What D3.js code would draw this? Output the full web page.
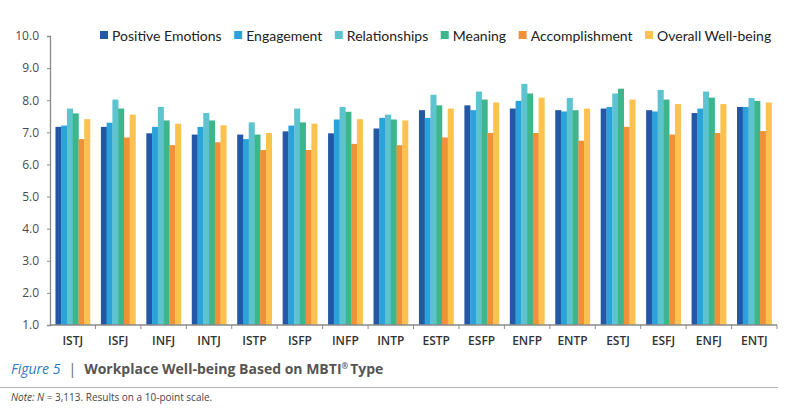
<!doctype html>
<html>
<head>
<meta charset="utf-8">
<title>Workplace Well-being Based on MBTI Type</title>
<style>
  html, body { margin: 0; padding: 0; background: #fff; }
  svg { display: block; }
</style>
<script src="https://cdnjs.cloudflare.com/ajax/libs/d3/7.8.5/d3.min.js"></script>
</head>
<body>
<script>
// data
var types = ["ISTJ","ISFJ","INFJ","INTJ","ISTP","ISFP","INFP","INTP",
             "ESTP","ESFP","ENFP","ENTP","ESTJ","ESFJ","ENFJ","ENTJ"];
var seriesNames = ["Positive Emotions","Engagement","Relationships","Meaning","Accomplishment","Overall Well-being"];
var seriesColors = ["#2457a5","#2aa3db","#5cc3cf","#3db68b","#f0913a","#fcc24f"];

var positiveEmotions = [7.17,7.17,6.97,6.93,6.93,7.03,6.97,7.12,7.69,7.84,7.74,7.69,7.74,7.69,7.60,7.79];
var engagement       = [7.21,7.30,7.17,7.17,6.79,7.21,7.40,7.45,7.45,7.69,7.98,7.65,7.79,7.65,7.74,7.79];
var relationships    = [7.74,8.02,7.79,7.60,7.31,7.74,7.79,7.55,8.17,8.27,8.51,8.07,8.21,8.32,8.27,8.07];
var meaning          = [7.59,7.74,7.37,7.37,6.93,7.31,7.64,7.40,7.84,8.02,8.21,7.69,8.36,8.02,8.08,7.98];
var accomplishment   = [6.79,6.84,6.60,6.69,6.45,6.45,6.64,6.60,6.84,6.98,6.98,6.74,7.17,6.93,6.98,7.04];
var overallWellbeing = [7.41,7.55,7.27,7.22,6.98,7.27,7.41,7.37,7.74,7.93,8.08,7.74,8.02,7.88,7.88,7.93];

var yTicks = [1,2,3,4,5,6,7,8,9,10];

var allSeries = [positiveEmotions, engagement, relationships, meaning, accomplishment, overallWellbeing];

var width = 799, height = 409;
var plotL = 50, plotR = 777, plotT = 36, plotB = 325;

var svg = d3.select("body").append("svg")
    .attr("width", width)
    .attr("height", height);

svg.append("rect").attr("width", width).attr("height", height).attr("fill", "#fff");

var x0 = d3.scaleBand().domain(types).range([plotL, plotR])
    .paddingInner(0.24).paddingOuter(0.12);
var x1 = d3.scaleBand().domain(seriesNames).range([0, x0.bandwidth()]);
var y = d3.scaleLinear().domain([1, 10]).range([plotB, plotT]);

// bars
var groups = svg.selectAll(".grp")
    .data(types).enter().append("g")
    .attr("class", "grp")
    .attr("transform", function (d) { return "translate(" + x0(d) + ",0)"; });

groups.selectAll("rect")
    .data(function (d, i) {
        return seriesNames.map(function (s, k) { return { s: s, k: k, v: allSeries[k][i] }; });
    })
    .enter().append("rect")
    .attr("x", function (d) { return x1(d.s); })
    .attr("width", x1.bandwidth() + 0.3)
    .attr("y", function (d) { return y(d.v); })
    .attr("height", function (d) { return y(1) - y(d.v); })
    .attr("fill", function (d) { return seriesColors[d.k]; });

// y axis
var yAxis = svg.append("g")
    .attr("transform", "translate(" + plotL + ",0)")
    .call(d3.axisLeft(y).tickValues(yTicks).tickSize(3).tickPadding(8)
        .tickFormat(d3.format(".1f")));
yAxis.select(".domain").attr("stroke", "#8a8a8a").attr("stroke-width", 1.3);
yAxis.selectAll(".tick line").attr("stroke", "#8a8a8a");
yAxis.selectAll("text")
    .attr("font-family", "Open Sans")
    .attr("font-size", "12px")
    .attr("fill", "#4a4a4a");

// x axis (ticks between groups)
var step = x0.step();
var xAxisG = svg.append("g").attr("transform", "translate(0," + plotB + ")");
xAxisG.append("line")
    .attr("x1", plotL).attr("x2", plotR)
    .attr("stroke", "#8a8a8a").attr("stroke-width", 1.3);
xAxisG.selectAll(".sep")
    .data(types).enter().append("line")
    .attr("x1", function (d) { return x0(d) - x0.padding() * step / 2 + step; })
    .attr("x2", function (d) { return x0(d) - x0.padding() * step / 2 + step; })
    .attr("y1", 0).attr("y2", 4)
    .attr("stroke", "#8a8a8a");
xAxisG.selectAll(".lbl")
    .data(types).enter().append("text")
    .attr("x", function (d) { return x0(d) + x0.bandwidth() / 2; })
    .attr("y", 20)
    .attr("text-anchor", "middle")
    .attr("font-family", "Open Sans")
    .attr("font-weight", 600)
    .attr("font-size", "12px")
    .attr("fill", "#333")
    .text(function (d) { return d; });

// legend
var legend = svg.append("g").attr("transform", "translate(100,0)");
var lx = 0;
seriesNames.forEach(function (name, k) {
    var it = legend.append("g").attr("transform", "translate(" + lx + ",0)");
    it.append("rect").attr("x", 0).attr("y", 31).attr("width", 8).attr("height", 8)
        .attr("fill", seriesColors[k]);
    var t = it.append("text").attr("x", 12).attr("y", 40.5)
        .attr("font-family", "Lato")
        .attr("font-size", "14px")
        .attr("fill", "#222")
        .text(name);
    lx += 12 + t.node().getComputedTextLength() + 12.5;
});

// caption
var cap = svg.append("text").attr("x", 11).attr("y", 374)
    .attr("font-family", "Open Sans")
    .attr("font-size", "14px");
cap.append("tspan").attr("font-style", "italic").attr("fill", "#2b7bbd").text("Figure 5");
cap.append("tspan").attr("fill", "#666").attr("dx", 8).text("|");
cap.append("tspan").attr("font-weight", 700).attr("fill", "#555").attr("dx", 8)
    .text("Workplace Well-being Based on MBTI");
cap.append("tspan").attr("font-weight", 700).attr("fill", "#555")
    .attr("font-size", "8px").attr("dy", -5).text("®");
cap.append("tspan").attr("font-weight", 700).attr("fill", "#555")
    .attr("dy", 5).attr("dx", 2).text("Type");

svg.append("line").attr("x1", 0).attr("x2", 778).attr("y1", 387.5).attr("y2", 387.5)
    .attr("stroke", "#b5b5b5").attr("stroke-width", 1.2);

var note = svg.append("text").attr("x", 11).attr("y", 401)
    .attr("font-family", "Open Sans")
    .attr("font-size", "10px")
    .attr("fill", "#444");
note.append("tspan").attr("font-style", "italic").text("Note: ");
note.append("tspan").attr("font-style", "italic").text("N");
note.append("tspan").text(" = 3,113. Results on a 10-point scale.");
</script>
</body>
</html>
